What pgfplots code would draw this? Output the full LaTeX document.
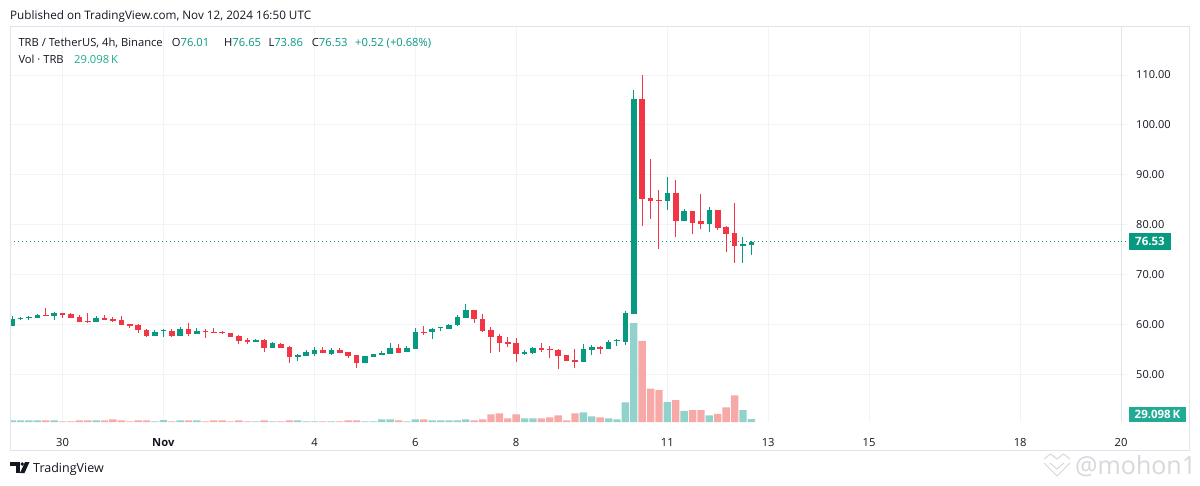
\documentclass[border=0pt]{standalone}
\usepackage{fontspec}
\setmainfont{Open Sans}
\usepackage{pgfplots}
\pgfplotsset{compat=1.18}
\usepackage{pgfplotstable}
\pgfdeclarelayer{bg}
\pgfsetlayers{bg,main}
\definecolor{tvgreen}{HTML}{089981}
\definecolor{tvred}{HTML}{F23645}
\definecolor{volgreen}{HTML}{92D2CC}
\definecolor{volred}{HTML}{F7A9A7}
\definecolor{gridcol}{HTML}{F0F3FA}
\definecolor{txtcol}{HTML}{131722}
\definecolor{framecol}{HTML}{E0E3EB}
\definecolor{volbox}{HTML}{22AB94}
\definecolor{wmark}{HTML}{D6D8DC}

% n = 4h candle index (1 = Oct 29 00:00), o h l c, v = volume (K)
\pgfplotstableread{
n o h l c v
1 59.73 61.67 59.73 61.07 16
2 61.10 61.50 60.80 61.20 16
3 61.30 61.70 60.90 61.40 16
4 61.30 62.10 61.30 61.90 16
6 61.75 62.50 60.90 62.30 16
11 60.50 61.70 60.50 61.30 16
18 57.70 58.90 57.70 58.50 7
19 58.70 59.10 57.50 58.85 19
21 57.72 59.46 57.72 59.06 16
23 58.10 59.25 58.10 58.65 16
30 56.50 57.10 56.50 56.90 7
32 55.30 56.45 55.30 56.20 7
35 53.50 54.00 52.70 53.85 16
36 53.70 54.80 53.70 54.40 7
37 54.00 55.40 53.70 54.80 7
39 54.00 55.30 53.90 54.85 7
43 52.30 53.65 52.30 53.65 7
44 53.50 54.05 53.50 54.05 7
45 53.90 54.65 53.90 54.25 26
46 54.10 56.25 54.10 55.25 26
48 54.50 55.65 54.50 55.25 7
49 55.10 59.25 55.10 58.45 26
51 58.50 59.25 57.10 59.05 16
52 59.20 59.40 58.60 59.30 16
53 59.10 60.05 59.10 59.85 16
54 59.85 61.90 59.70 61.40 16
55 61.35 64.10 61.35 62.90 26
62 54.15 54.95 53.95 54.50 36
63 54.30 55.45 54.00 55.25 36
69 52.45 56.05 52.45 55.05 94
70 54.85 55.85 53.85 55.45 55
72 55.05 56.85 55.05 56.45 36
73 56.60 57.05 55.70 56.70 26
74 56.45 62.67 55.85 62.27 191
75 62.17 106.99 62.17 105.19 960
79 84.80 89.60 83.00 86.35 194
81 80.80 83.15 80.80 82.80 107
84 80.13 83.47 78.53 82.87 65
88 75.66 77.46 72.32 76.06 116
89 76.01 76.65 73.86 76.53 29.098
}\upT

\pgfplotstableread{
n o h l c v
5 61.90 63.30 61.70 61.75 16
7 62.30 62.30 61.30 61.95 7
8 62.00 62.20 61.30 61.30 7
9 61.50 61.90 60.50 60.50 16
10 60.60 62.30 60.30 60.50 16
12 61.30 61.90 60.90 60.90 16
13 61.10 61.50 60.50 60.70 26
14 60.80 61.70 59.90 59.90 16
15 60.00 60.00 59.30 59.70 7
16 59.90 60.10 58.30 58.80 16
17 58.90 59.10 57.50 57.70 16
20 58.59 59.00 57.50 57.72 7
22 59.06 60.26 57.72 58.10 16
24 58.70 59.06 57.30 58.50 7
25 58.45 59.25 58.30 58.30 16
26 58.40 58.70 58.00 58.30 16
27 58.25 58.30 57.50 57.50 7
28 57.60 57.90 56.10 56.70 16
29 56.80 57.20 56.10 56.40 7
31 56.85 57.05 54.50 55.30 16
33 56.00 56.25 55.30 55.30 7
34 55.40 55.60 52.30 53.50 16
38 54.85 55.45 54.18 54.18 7
40 54.85 55.30 54.20 54.30 7
41 54.45 54.45 53.30 53.70 16
42 53.85 53.85 51.30 52.30 16
47 55.25 56.05 54.30 54.30 16
50 58.40 59.65 57.90 58.25 26
56 62.87 62.87 60.33 60.99 16
57 61.05 62.05 58.50 58.70 26
58 58.90 59.45 54.30 57.50 74
59 57.65 58.05 54.50 56.30 84
60 56.50 57.45 55.50 56.05 36
61 56.25 57.25 52.40 54.15 74
64 55.25 56.25 54.50 54.85 36
65 55.05 55.65 53.30 54.90 45
66 54.85 55.05 51.00 53.70 65
67 53.85 53.85 52.70 52.70 16
68 52.85 55.05 51.20 52.45 84
71 55.45 55.65 54.10 55.05 45
76 105.19 110.00 79.74 85.22 786
77 85.35 93.17 81.20 84.80 323
78 84.95 86.95 75.20 84.80 310
80 86.35 88.95 77.60 80.80 213
82 82.80 82.80 78.20 80.40 116
83 80.67 86.08 79.06 80.13 116
85 82.87 82.87 79.00 79.33 78
86 79.47 79.67 74.46 78.13 142
87 78.33 84.28 72.32 75.66 259
}\dnT

\pgfplotsset{
  paneaxis/.style={anchor=south west, scale only axis,
    width=1111pt, height=394pt, xmin=-3.042, xmax=19},
  wick/.style={draw=none, mark=none,
    error bars/.cd, y dir=plus, y explicit, error mark=none,
    error bar style={line width=1pt, draw=#1}},
  body/.style={draw=none, mark=none,
    error bars/.cd, y dir=plus, y explicit, error mark=none,
    error bar style={line width=5.6pt, draw=#1}},
}

\begin{document}
\begin{tikzpicture}[x=1pt,y=1pt]
% price grid and labels
\begin{axis}[paneaxis, name=pa, ymin=40.433, ymax=119.423,
  axis line style={draw=none},
  xtick style={draw=none},
  ytick style={draw=gridcol, line width=1pt},
  ytick pos=right, tick align=outside, major tick length=6pt,
  grid=major, major grid style={draw=gridcol, line width=1pt},
  xtick={-2,0,3,5,7,10,12,14,17,19},
  xticklabels={30,\textbf{Nov},4,6,8,11,13,15,18,20},
  ytick={50,60,70,80,90,100,110},
  yticklabels={50.00,60.00,70.00,80.00,90.00,100.00,110.00},
  yticklabel pos=right,
  xticklabel style={font=\fontsize{11.2}{13}\selectfont, text=txtcol, anchor=base, inner sep=0pt, yshift=-18pt},
  yticklabel style={font=\fontsize{11}{13}\selectfont, text=txtcol, anchor=west, inner sep=0pt, xshift=9pt},
]
\addplot[draw=none] coordinates {(0,60)};
\end{axis}

% volume
\begin{axis}[paneaxis, at={(pa.south west)}, ymin=0, ymax=3822, hide axis]
\addplot[ybar, bar width=7.4pt, bar shift=0pt, fill=volgreen, draw=none]
  table[x expr={-3+(\thisrow{n}-1)/6}, y=v] {\upT};
\addplot[ybar, bar width=7.4pt, bar shift=0pt, fill=volred, draw=none]
  table[x expr={-3+(\thisrow{n}-1)/6}, y=v] {\dnT};
\end{axis}

% candles
\begin{axis}[paneaxis, at={(pa.south west)}, ymin=40.433, ymax=119.423, hide axis]
\addplot[tvgreen, line width=1pt, dash pattern=on 1pt off 3pt] coordinates {(-3.042,76.53) (19,76.53)};
\addplot[wick=tvgreen] table[x expr={-3+(\thisrow{n}-1)/6}, y=l, y error plus expr={\thisrow{h}-\thisrow{l}}] {\upT};
\addplot[wick=tvred] table[x expr={-3+(\thisrow{n}-1)/6}, y=l, y error plus expr={\thisrow{h}-\thisrow{l}}] {\dnT};
\addplot[body=tvgreen] table[x expr={-3+(\thisrow{n}-1)/6}, y expr={min(\thisrow{o},\thisrow{c})}, y error plus expr={max(abs(\thisrow{c}-\thisrow{o}),0.2)}] {\upT};
\addplot[body=tvred] table[x expr={-3+(\thisrow{n}-1)/6}, y expr={min(\thisrow{o},\thisrow{c})}, y error plus expr={max(abs(\thisrow{c}-\thisrow{o}),0.2)}] {\dnT};
\end{axis}

\begin{scope}[shift={(pa.south west)}, shift={(-10,-63)}]
\useasboundingbox (0,0) rectangle (1200,485);
\begin{pgfonlayer}{bg}
\fill[white] (0,0) rectangle (1200,485);
\end{pgfonlayer}
% frame and separators
\draw[framecol, line width=1pt] (10.5,458) rectangle (1189.5,35);
\draw[framecol, line width=1pt] (1121,458) -- (1121,63);
\draw[tvgreen, line width=1pt, dash pattern=on 1pt off 3pt] (1121,243.1) -- (1129,243.1);

% price boxes
\fill[tvgreen] (1129,235) rectangle (1171,252.3);
\node[text=white, font=\fontsize{11.5}{13}\selectfont\bfseries, inner sep=0pt] at (1150,243.6) {76.53};
\fill[volbox] (1129,63) rectangle (1186,78);
\node[text=white, font=\fontsize{11.5}{13}\selectfont\bfseries, inner sep=0pt] at (1157.5,70.5) {29.098\,K};

% header
\node[anchor=base west, inner sep=0pt, text=txtcol, font=\fontsize{11.7}{14}\selectfont] at (10,465.5) {Published on TradingView.com, Nov 12, 2024 16:50 UTC};
\begin{scope}[every node/.style={anchor=base west, inner sep=0pt, text=txtcol, font=\fontsize{11.2}{13}\selectfont}]
\node at (18.3,438.6) {TRB / TetherUS, 4h, Binance};
\node at (171.7,438.6) {O\textcolor{tvgreen}{76.01}};
\node at (224,438.6) {H\textcolor{tvgreen}{76.65}};
\node at (268.3,438.6) {L\textcolor{tvgreen}{73.86}};
\node at (311.7,438.6) {C\textcolor{tvgreen}{76.53}};
\node at (355,438.6) {\textcolor{tvgreen}{+0.52 (+0.68\%)}};
\node at (18.3,421) {Vol · TRB};
\node at (74,421) {\textcolor{volbox}{29.098\,K}};
\end{scope}

% footer logo
\fill[txtcol] (10,23) rectangle (19.5,19);
\fill[txtcol] (15.5,19) rectangle (19.5,12);
\fill[txtcol] (22.2,21) circle (1.9);
\fill[txtcol] (25,23) -- (29.5,23) -- (24.5,12) -- (20,12) -- cycle;
\node[anchor=base west, inner sep=0pt, text=txtcol, font=\fontsize{12.5}{15}\selectfont] at (33,13) {TradingView};
% watermark
\draw[wmark, line width=1pt, line join=round] (1044,26) -- (1050.5,31) -- (1057,26) -- (1063.5,31) -- (1070,26);
\draw[wmark, line width=1pt, line join=round] (1044,22) -- (1057,9) -- (1070,22);
\draw[wmark, line width=1pt, line join=round] (1050,22) -- (1057,16) -- (1064,22);
\node[anchor=base west, inner sep=0pt, text=wmark, font=\fontsize{25}{27}\selectfont] at (1075,11) {@mohon1};
\end{scope}
\end{tikzpicture}
\end{document}
